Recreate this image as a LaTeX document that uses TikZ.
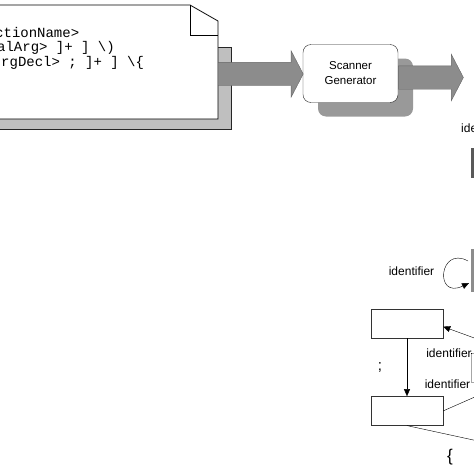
\documentclass[tikz,border=0pt]{standalone}
\usepackage{fontspec}
\setmainfont{Liberation Sans}
\setmonofont{Liberation Mono}
\usetikzlibrary{shapes,arrows}
\usetikzlibrary{arrows.meta}
\usetikzlibrary{calc,positioning}
\usetikzlibrary{shadows}

\begin{document}
\frenchspacing
\begin{tikzpicture}[x=1pt,y=-1pt]
    \tikzstyle{state} = [draw=black!80, thin, minimum width=72pt, minimum height=29pt, inner sep=0pt]
    \tikzstyle{line} = [draw, thin, -{Triangle[length=7pt,width=6pt]}]
    \tikzstyle{plain line} = [draw, thin]
    \tikzstyle{fat arrow} = [single arrow, draw=black!60, fill=black!45, inner xsep=0pt, inner ysep=11.5pt, single arrow head extend=11.5pt, single arrow tip angle=125, anchor=tail]
    \tikzstyle{token} = [font=\fontsize{12}{14}\selectfont, inner sep=0pt]
    \tikzstyle{code} = [anchor=base west, inner sep=0pt, font=\codeFont]

    \def\codeFont{\fontsize{14}{14}\selectfont\ttfamily}

    \useasboundingbox (0,0) rectangle (474,474);
    \clip (0,0) rectangle (474,474);

    % specification file
    \filldraw[fill=black!25, draw=black!85, thin] (-10,47) rectangle (231,129);
    \filldraw[fill=white, thick] (-10,5) -- (190,5) -- (218,21) -- (218,119) -- (-10,119) -- cycle;
    \draw[thin] (190,5) -- (190,35) -- (218,35);

    \node (spec1) [code] at (-5,37) {ctionName>};
    \node (spec2) [code] at (-3,51.5) {alArg>~]+~]~\textbackslash)};
    \node (spec3) [code] at (1,66) {rgDecl>~;~]+~]~\textbackslash\{};

    \node (docR) [coordinate] at (218,74) {};

    \node (scanner) [%
        draw=black!85, thin, fill=white,
        rounded corners=8pt,
        minimum width=95pt, minimum height=58pt,
        align=center, font=\fontsize{11.5}{15}\selectfont,
        drop shadow={shadow xshift=15pt, shadow yshift=-14pt, fill=black!40, opacity=1}
    ] at (350.5,73.5) {Scanner\\Generator};

    \node (inArrow) [fat arrow, minimum height=85pt] at (docR) {};
    \node (outArrow) [fat arrow, minimum height=65pt] at ($(scanner.east)+(0,4)$) {};

    % scanner automaton
    \node (tokTop) [token, anchor=west] at (461,128) {identifier};
    \node (stateTop) [fill=black!65, minimum width=12pt, minimum height=30pt, anchor=north west, inner sep=0pt] at (471,148) {};

    \node (stateLoop) [draw=black!45, line width=3pt, outer sep=0pt, minimum width=20pt, minimum height=40pt, anchor=west, inner sep=0pt] at (472,270) {};
    \node (tokLoop) [token] at (411.5,271) {identifier};
    \path [line] ($(stateLoop.west)+(-4,-9)$) .. controls ($(stateLoop.west)+(-33,-25)$) and ($(stateLoop.west)+(-38,30)$) .. ($(stateLoop.west)+(-3,13)$);

    \node (stateA) [state] at (407,323.5) {};
    \node (stateB) [state, below=58pt of stateA] {};
    \path [line] (stateA) -- (stateB);
    \node (tokSemi) [font=\fontsize{15}{15}\selectfont] at (380,367) {;};

    \node (stateC) [draw=black!35, thin, minimum width=20pt, minimum height=29pt, anchor=north west, inner sep=0pt] at (471,353) {};
    \node (tokA) [token] at (449,353) {identifier};
    \draw[thin] (tokA.east) -- (stateC.north west);
    \node (tokB) [token] at (447.5,384) {identifier};

    \node (offA) [coordinate] at (490,343.7) {};
    \node (offB) [coordinate] at (490,390.3) {};
    \node (offC) [coordinate] at (490,443.6) {};
    \path [line] (offA) -- (stateA.-5);
    \path [plain line] (stateB.east) -- (offB);
    \path [plain line] (stateB.south) -- (offC);

    \node (tokBrace) [font=\fontsize{17}{17}\selectfont] at (450,457) {\{};
\end{tikzpicture}
\end{document}
